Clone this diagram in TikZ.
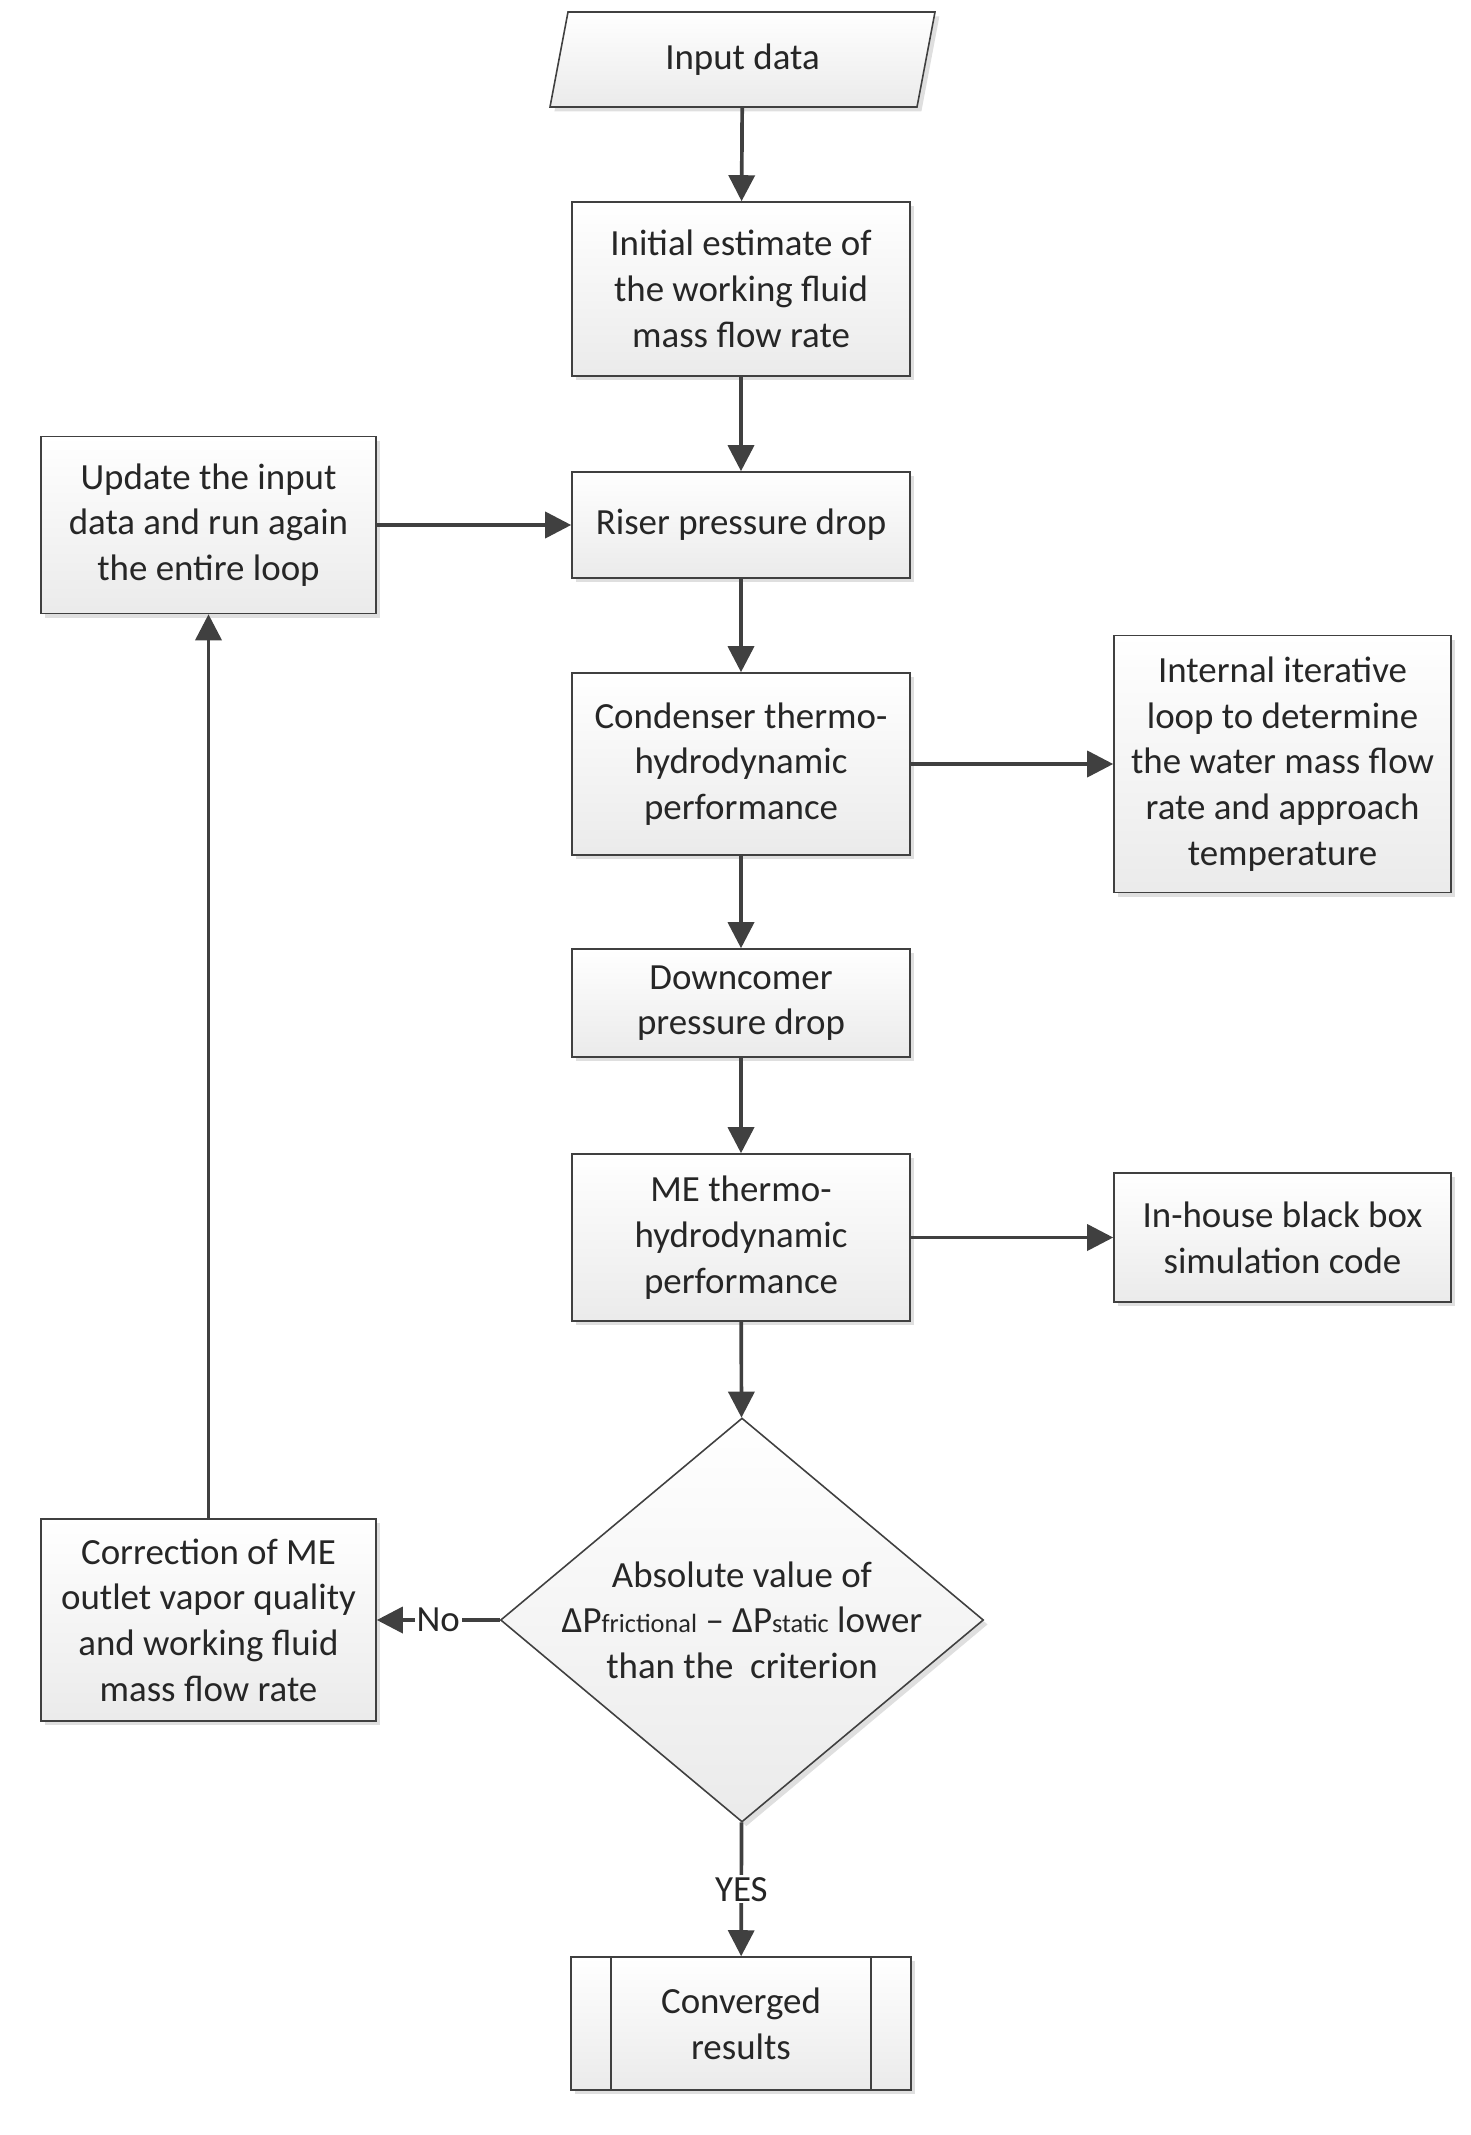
\documentclass[tikz,border=0pt]{standalone}
\usepackage{fontspec}
\setmainfont{Carlito}
\usetikzlibrary{shapes.geometric,shadows,arrows.meta}
\definecolor{linegray}{HTML}{404040}
\definecolor{textgray}{HTML}{262626}
\tikzset{
	box/.style={draw=linegray, line width=0.9pt, top color=white, bottom color=gray!16,
		drop shadow={opacity=0.25, shadow xshift=2.5pt, shadow yshift=-2.5pt},
		align=center, text=textgray, minimum width=6.76cm, inner sep=2pt},
	arr/.style={draw=linegray, line width=2.1pt, -{Triangle[length=0.52cm,width=0.52cm]}},
	lbl/.style={fill=white, inner sep=1pt, text=textgray},
}
\begin{document}
\begin{tikzpicture}[font=\fontsize{21}{26}\selectfont]
			\useasboundingbox (0,0) rectangle (29.42,-42.7);
			\node[box, trapezium, trapezium left angle=65, trapezium right angle=115,
				trapezium stretches body=true, minimum width=7.7cm, minimum height=1.9cm]
				(input) at (14.85,-1.19) {Input data};
			\node[box, minimum height=3.48cm] (init) at (14.82,-5.78) {Initial estimate of\\the working fluid\\mass flow rate};
			\node[box, minimum height=2.12cm] (riser) at (14.82,-10.5) {Riser pressure drop};
			\node[box, minimum height=3.64cm] (cond) at (14.82,-15.28) {Condenser thermo-\\hydrodynamic\\performance};
			\node[box, minimum height=2.16cm] (down) at (14.82,-20.06) {Downcomer\\pressure drop};
			\node[box, minimum height=3.34cm] (me) at (14.82,-24.75) {ME thermo-\\hydrodynamic\\performance};
			\node[box, diamond, aspect=1.2, minimum width=9.66cm, minimum height=8.08cm, inner sep=-0.21cm]
				(dec) at (14.84,-32.4) {Absolute value of\\ΔP{\fontsize{15}{18}\selectfont frictional} – ΔP{\fontsize{15}{18}\selectfont static} lower\\than the\ \ criterion};
			\node[box, minimum width=6.8cm, minimum height=2.66cm] (conv) at (14.82,-40.47) {Converged\\results};
			\draw[linegray, line width=0.9pt] ([xshift=0.82cm]conv.north west) -- ([xshift=0.82cm]conv.south west);
			\draw[linegray, line width=0.9pt] ([xshift=-0.82cm]conv.north east) -- ([xshift=-0.82cm]conv.south east);
			\node[box, minimum width=6.7cm, minimum height=3.54cm] (upd) at (4.17,-10.5) {Update the input\\data and run again\\the entire loop};
			\node[box, minimum width=6.7cm, minimum height=4.04cm] (corr) at (4.17,-32.4) {Correction of ME\\outlet vapor quality\\and working fluid\\mass flow rate};
			\node[box, minimum width=6.74cm, minimum height=5.14cm] (intl) at (25.65,-15.28) {Internal iterative\\loop to determine\\the water mass flow\\rate and approach\\temperature};
			\node[box, minimum width=6.74cm, minimum height=2.58cm] (inh) at (25.65,-24.75) {In-house black box\\simulation code};
			\draw[arr] (input) -- (init);
			\draw[arr] (init) -- (riser);
			\draw[arr] (riser) -- (cond);
			\draw[arr] (cond) -- (down);
			\draw[arr] (down) -- (me);
			\draw[arr] (me) -- (dec);
			\draw[arr] (cond) -- (intl);
			\draw[arr] (me) -- (inh);
			\draw[arr] (dec) -- node[lbl] {YES} (conv);
			\draw[arr] (dec) -- node[lbl] {No} (corr);
			\draw[arr] (corr) -- (upd);
			\draw[arr] (upd) -- (riser);
		\end{tikzpicture}
\end{document}
